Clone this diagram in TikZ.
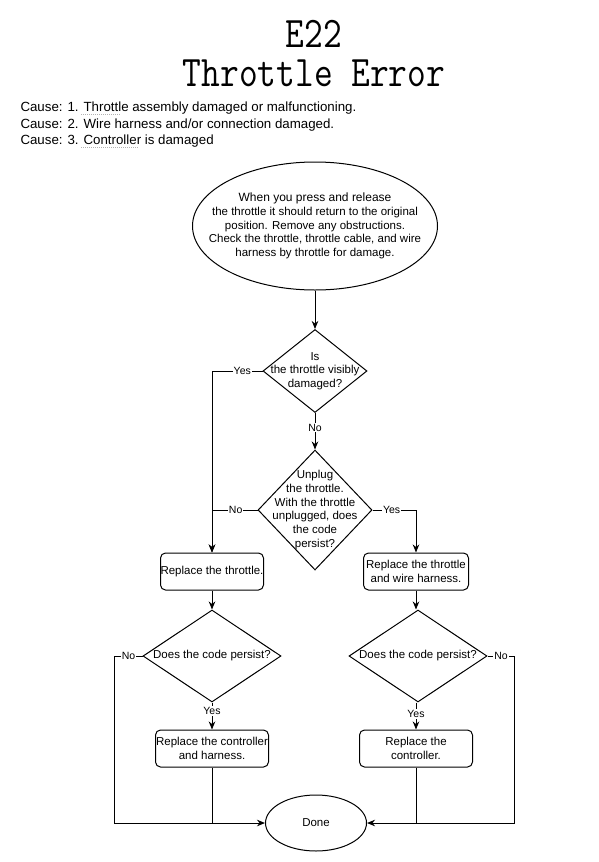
\documentclass[tikz,border=0pt]{standalone}
\usepackage{fontspec}
\setmainfont{Liberation Sans}
\usetikzlibrary{shapes.geometric}
\usetikzlibrary{arrows.meta}

\newcommand{\nodefont}{\fontsize{11.5}{13.7}\selectfont}
\newcommand{\startfont}{\fontsize{12}{14.2}\selectfont}
\newcommand{\answerfont}{\fontsize{10.5}{12}\selectfont}
\newcommand{\causefont}{\fontsize{13.3}{16}\selectfont}
\newcommand{\titlefont}{\fontsize{36.4}{31.7}\selectfont\ttfamily}

\tikzset{
  terminal/.style={ellipse, draw, inner sep=0pt, label={[align=center, font=\nodefont]center:{#1}}},
  decision/.style={diamond, draw, inner sep=0pt, label={[align=center, font=\nodefont]center:{#1}}},
  process/.style={rectangle, draw, rounded corners=5pt, minimum height=37, inner sep=0pt, align=center, font=\nodefont},
  answer/.style={fill=white, inner sep=1pt, font=\answerfont}
}

\begin{document}
\begin{tikzpicture}[x=1pt, y=-1pt, line width=1pt, >={Stealth[length=8pt, width=6.5pt, inset=2.5pt]}]
\useasboundingbox (0,0) rectangle (598,862);

% title and causes
\node[anchor=base, inner sep=0pt] (title) at (314,86)
  {\scalebox{1}[1.2]{\titlefont\begin{tabular}[b]{@{}c@{}}E22\\Throttle Error\end{tabular}}};

\node[anchor=base west, inner sep=0pt, font=\causefont] (cause0) at (20,111.5) {Cause: 1. Throttle assembly damaged or malfunctioning.};
\node[anchor=base west, inner sep=0pt, font=\causefont] (cause1) at (20,128) {Cause: 2. Wire harness and/or connection damaged.};
\node[anchor=base west, inner sep=0pt, font=\causefont] (cause2) at (20,144.5) {Cause: 3. Controller is damaged};
\draw[gray!60, dash pattern=on 1pt off 1pt] (81,114.5) -- (121,114.5);
\draw[gray!60, dash pattern=on 1pt off 1pt] (81,147.5) -- (138,147.5);

% shapes
\node[terminal={\startfont When you press and release\\the throttle it should return to the original\\position. Remove any obstructions.\\Check the throttle, throttle cable, and wire\\harness by throttle for damage.},
      minimum width=245, minimum height=128] (start) at (315,226) {};

\node[decision={Is\\the throttle visibly\\damaged?}, minimum width=104, minimum height=83] (dec0) at (315,371) {};
\node[decision={Unplug\\the throttle.\\With the throttle\\unplugged, does\\the code\\persist?}, minimum width=114, minimum height=120] (dec1) at (315,510) {};

\node[process, minimum width=103] (proc0) at (212,571.5) {Replace the throttle.};
\node[process, minimum width=105] (proc1) at (416,571.5) {Replace the throttle\\and wire harness.};

\node[decision={Does the code persist?}, minimum width=138, minimum height=92] (dec2) at (212,656) {};
\node[decision={Does the code persist?}, minimum width=138, minimum height=92] (dec3) at (418,656) {};

\node[process, minimum width=113] (proc2) at (212,748.5) {Replace the controller\\and harness.};
\node[process, minimum width=113] (proc3) at (416,748.5) {Replace the\\controller.};

\node[terminal={Done}, minimum width=101, minimum height=56] (done) at (316,823) {};

% connectors
\draw[->] (start) -- (dec0);
\draw[->] (dec0.west) -| node[answer, pos=0.2] {Yes} (proc0.north);
\draw[->] (dec0) -- node[answer, pos=0.4] {No} (dec1);
\draw[->] (dec1.west) -| node[answer, pos=0.24] {No} (proc0.north);
\draw[->] (dec1.east) -| node[answer, pos=0.22] {Yes} (proc1.north);

\draw[->] (proc0) -- (dec2);
\draw[->] (proc1.south) -- (proc1.south |- dec3.north);

\draw[->] (dec2.west) -- node[answer] {No} ++(-28,0) |- (done.west);
\draw[->] (dec2) -- node[answer, pos=0.32] {Yes} (proc2);
\draw (proc2) -- (proc2 |- done.west);

\draw[->] (dec3.east) -- node[answer] {No} ++(27,0) |- (done.east);
\draw[->] (dec3.south -| proc3) -- node[answer, pos=0.43] {Yes} (proc3);
\draw (proc3) -- (proc3 |- done.east);

\end{tikzpicture}
\end{document}
